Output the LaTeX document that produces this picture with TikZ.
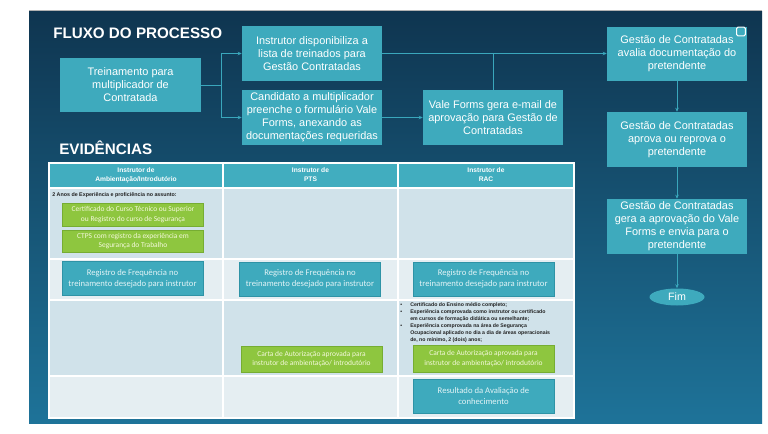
\documentclass[tikz,border=0pt]{standalone}
\usepackage{fontspec}
\setmainfont{Liberation Sans}
\newfontfamily\carl{Carlito}
\usetikzlibrary{arrows.meta,shapes.geometric}
\definecolor{tealbox}{HTML}{3EAABD}
\definecolor{tealdark}{HTML}{2E93A6}
\definecolor{linec}{HTML}{3AA7BC}
\definecolor{bgtop}{HTML}{0F3550}
\definecolor{bgbot}{HTML}{1E7399}
\definecolor{hdr}{HTML}{41ADBF}
\definecolor{rowa}{HTML}{D0E2EA}
\definecolor{rowb}{HTML}{E5EEF2}
\definecolor{greenbox}{HTML}{8EC63F}
\definecolor{greendark}{HTML}{76AD32}
\definecolor{greentxt}{HTML}{F4F8DC}
\definecolor{paletxt}{HTML}{E2F3F6}
\definecolor{bultxt}{HTML}{222222}
\begin{document}
\begin{tikzpicture}[x=0.75pt,y=-0.75pt,
  flowbox/.style={rectangle, fill=tealbox, text=white, align=center,
    font=\fontsize{8.2}{9.75}\selectfont, inner sep=0pt,
    minimum width=105pt, minimum height=41.25pt},
  conn/.style={draw=linec, line width=0.6pt},
  arr/.style={conn, -{Stealth[length=3pt,width=2.6pt]}},
  tbox/.style={rectangle, fill=tealbox, draw=tealdark, line width=0.4pt,
    text=paletxt, align=center, font=\carl\fontsize{6.5}{8.2}\selectfont,
    inner sep=0pt, minimum width=105.75pt, minimum height=25.5pt},
  gbox/.style={rectangle, fill=greenbox, draw=greendark, line width=0.5pt,
    text=greentxt, align=center, font=\carl\fontsize{5.6}{7.2}\selectfont,
    inner sep=0pt, minimum width=105.75pt},
  hdrtxt/.style={text=white, align=center, font=\bfseries\fontsize{5}{6.6}\selectfont, inner sep=0pt},
  title/.style={anchor=west, text=white, inner sep=0pt, font=\bfseries\fontsize{11.4}{13}\selectfont}
  ]
\useasboundingbox (0,0) rectangle (768,433);
\fill[white] (0,0) rectangle (768,433);
\shade[shading angle=40, top color=bgtop, bottom color=bgbot] (29,11) rectangle (762,423);
\draw[gray!60, line width=1pt] (29,10.5) -- (762,10.5);

% titles
\node[title] (tflux) at (53,33) {FLUXO DO PROCESSO};
\node[title] (tevid) at (59,148) {EVIDÊNCIAS};

% flow
\node[flowbox, minimum width=105.75pt, minimum height=40.5pt] (t1) at (130.5,85) {Treinamento para\\multiplicador de\\Contratada};
\node[flowbox] (i1) at (312,53.5) {Instrutor disponibiliza a\\lista de treinados para\\Gestão Contratadas};
\node[flowbox] (c1) at (312,117.5) {Candidato a multiplicador\\preenche o formulário Vale\\Forms, anexando as\\documentações requeridas};
\node[flowbox] (v1) at (493,117.5) {Vale Forms gera e-mail de\\aprovação para Gestão de\\Contratadas};
\node[flowbox, minimum height=40.5pt] (g1) at (677,54) {Gestão de Contratadas\\avalia documentação do\\pretendente};
\node[flowbox] (g2) at (677,139.5) {Gestão de Contratadas\\aprova ou reprova o\\pretendente};
\node[flowbox] (g3) at (677,226.5) {Gestão de Contratadas\\gera a aprovação do Vale\\Forms e envia para o\\pretendente};
\node[ellipse, fill=tealbox, text=white, inner sep=0pt, minimum width=41.25pt, minimum height=12.75pt, font=\fontsize{8}{9}\selectfont] (fim) at (677,297) {Fim};
\node[draw=white, rounded corners=1pt, line width=0.8pt, inner sep=0pt, minimum size=6.5pt] (sq) at (741,31.5) {};

\coordinate (j1) at (221,85);
\draw[conn] (t1.east) -- (j1);
\draw[arr] (j1) |- (i1.west);
\draw[arr] (j1) |- (c1.west);
\draw[arr] (i1.east) -- (i1.east -| g1.west);
\draw[conn] (v1.north) -- (v1.north |- i1.east);
\draw[arr] (c1.east) -- (v1.west);
\draw[arr] (g1.south) -- (g2.north);
\draw[arr] (g2.south) -- (g3.north);
\draw[arr] (g3.south) -- (fim.north);

% table
\fill[hdr] (49,163) rectangle (574,188);
\fill[rowa] (49,188) rectangle (574,259);
\fill[rowb] (49,259) rectangle (574,300);
\fill[rowa] (49,300) rectangle (574,376);
\fill[rowb] (49,376) rectangle (574,418);
\draw[white, line width=0.8pt] (49,163) rectangle (574,418);
\foreach \yy in {188,259,300,376} \draw[white, line width=0.8pt] (49,\yy) -- (574,\yy);
\foreach \xx in {223,398} \draw[white, line width=0.8pt] (\xx,163) -- (\xx,418);

\node[hdrtxt] (h1) at (136,175) {Instrutor de\\Ambientação/Introdutório};
\node[hdrtxt] (h2) at (310.5,175) {Instrutor de\\PTS};
\node[hdrtxt] (h3) at (486,175) {Instrutor de\\RAC};

\node[anchor=west, inner sep=0pt, text=bultxt, font=\bfseries\fontsize{4}{5}\selectfont] (anos) at (52,195) {2 Anos de Experiência e proficiência no assunto:};
\node[gbox, minimum height=17.25pt] (cert) at (133,214.5) {Certificado do Curso Técnico ou Superior\\ou Registro do curso de Segurança};
\node[gbox, minimum height=16.5pt] (ctps) at (133,241) {CTPS com registro da experiência em\\Segurança do Trabalho};

\node[tbox] (reg1) at (132.5,278.5) {Registro de Frequência no\\treinamento desejado para instrutor};
\node[tbox] (reg2) at (310,279) {Registro de Frequência no\\treinamento desejado para instrutor};
\node[tbox] (reg3) at (483.5,279) {Registro de Frequência no\\treinamento desejado para instrutor};

\node[anchor=north west, inner sep=0pt, align=left, text=bultxt, font=\bfseries\fontsize{3.9}{5.2}\selectfont] (bul) at (400,302.5)
 {\makebox[7.5pt][l]{•}Certificado do Ensino médio completo;\\
  \makebox[7.5pt][l]{•}Experiência comprovada como instrutor ou certificado\\
  \hspace*{7.5pt}em cursos de formação didática ou semelhante;\\
  \makebox[7.5pt][l]{•}Experiência comprovada na área de Segurança\\
  \hspace*{7.5pt}Ocupacional aplicado no dia a dia de áreas operacionais\\
  \hspace*{7.5pt}de, no mínimo, 2 (dois) anos;};

\node[gbox, minimum height=19.5pt] (carta2) at (311.5,359) {Carta de Autorização aprovada para\\instrutor de ambientação/ introdutório};
\node[gbox, minimum height=20pt] (carta3) at (483.5,358.5) {Carta de Autorização aprovada para\\instrutor de ambientação/ introdutório};

\node[tbox] (res) at (483.5,396) {Resultado da Avaliação de\\conhecimento};
\end{tikzpicture}
\end{document}
